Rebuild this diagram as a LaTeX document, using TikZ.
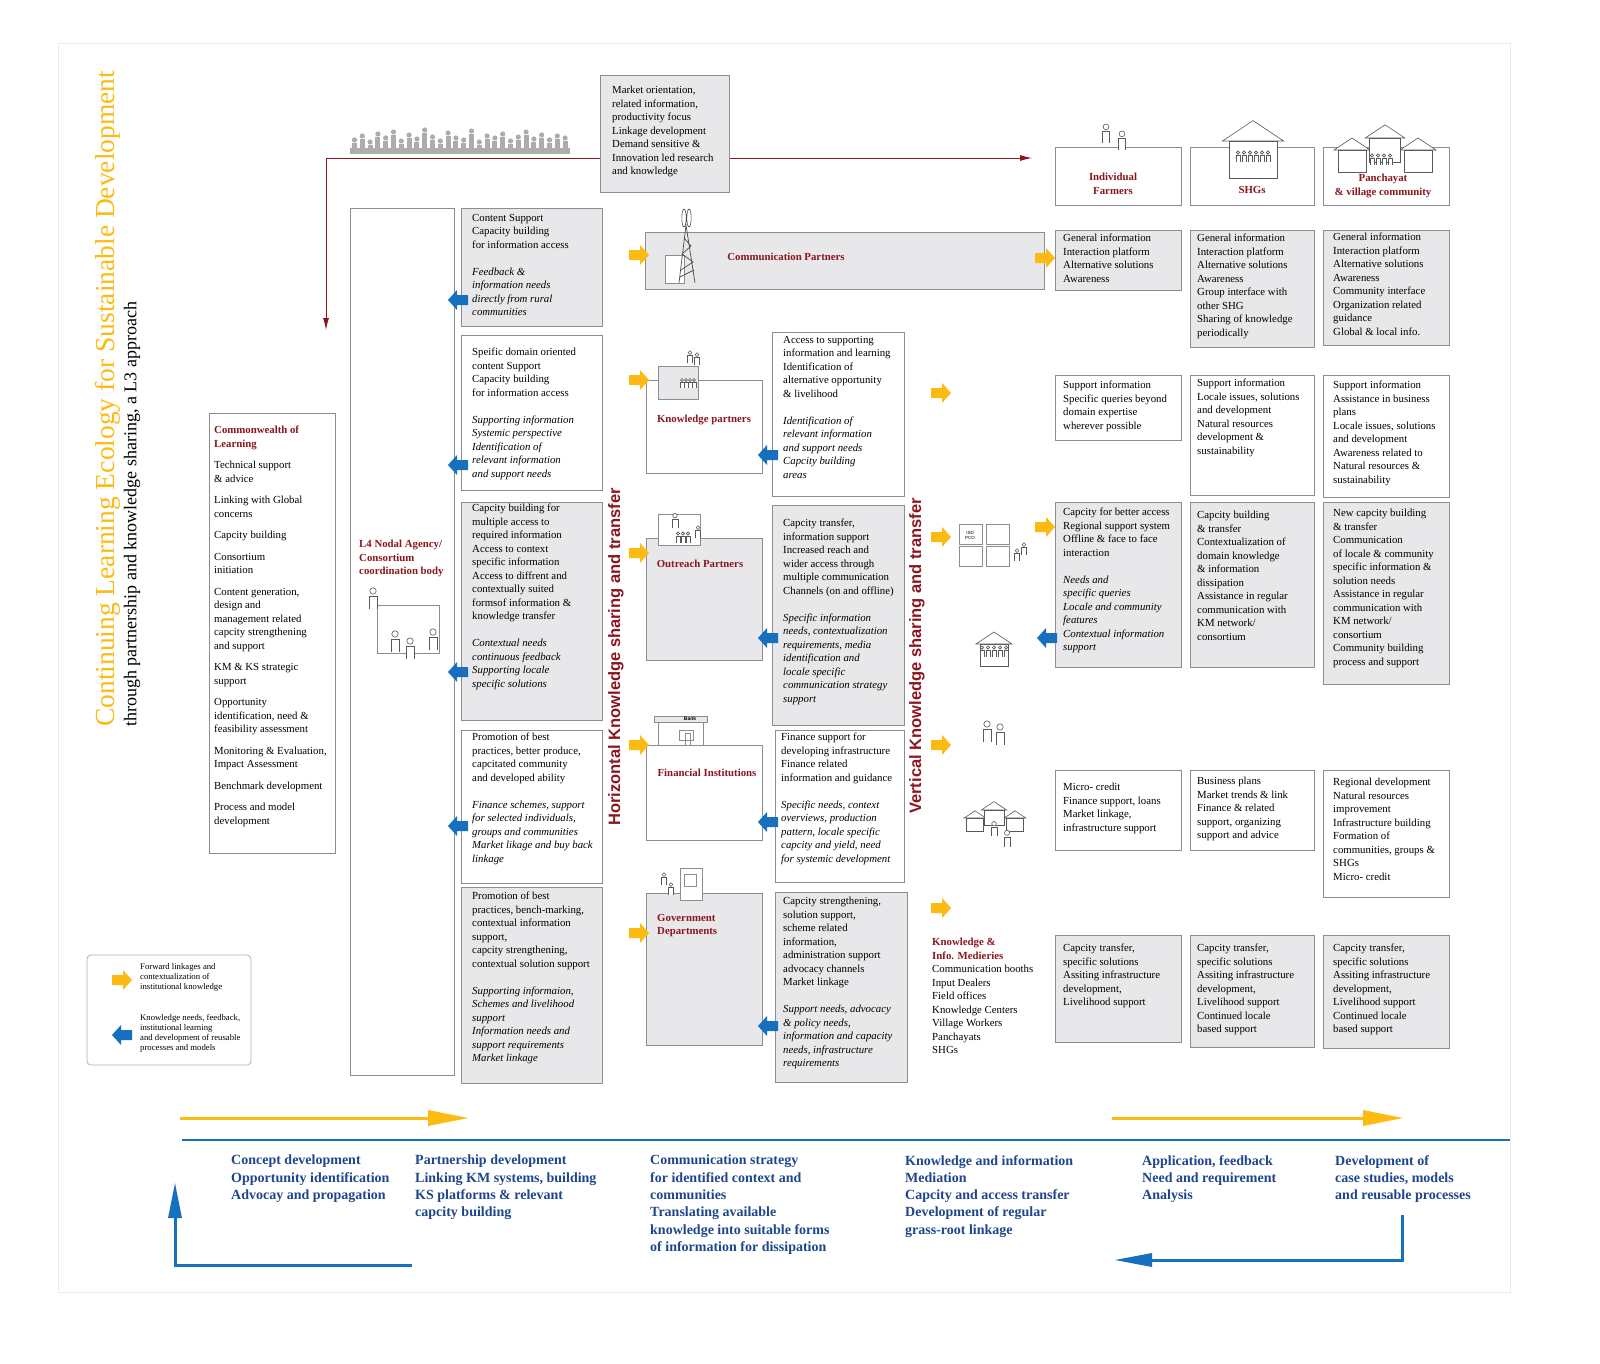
\documentclass[tikz,border=0pt]{standalone}
\usepackage{fontspec}
\usetikzlibrary{arrows.meta}
\setmainfont{Liberation Serif}
\setsansfont{Liberation Sans}
\definecolor{yel}{RGB}{252,186,18}
\definecolor{blu}{RGB}{22,112,190}
\definecolor{dred}{RGB}{140,22,30}
\definecolor{dblu}{RGB}{30,70,140}
\definecolor{gfill}{RGB}{232,232,234}
\definecolor{bline}{RGB}{140,140,145}
\newcommand\ft{\fontsize{10.8}{13.5}\selectfont}
\newcommand\mybox[5]{\draw[bline,line width=0.8pt,fill=#5] (#1,#2) rectangle (#3,#4);}
\tikzset{
 txt/.style={anchor=north west,align=left,font=\ft,inner sep=0pt},
 lab/.style={align=left,font=\ft\bfseries,text=dred,inner sep=0pt},
 bot/.style={anchor=north west,align=left,font=\fontsize{14}{17.3}\selectfont\bfseries,text=dblu,inner sep=0pt},
 yar/.pic={\fill[yel] (-10,-5)--(1,-5)--(1,-10)--(10,0)--(1,10)--(1,5)--(-10,5)--cycle;},
 bar/.pic={\fill[blu] (10,-5)--(-1,-5)--(-1,-10)--(-10,0)--(-1,10)--(-1,5)--(10,5)--cycle;},
 person/.pic={\draw[gray!70!black,line width=0.6pt,fill=white] (0,-9) circle (3.2); \draw[gray!70!black,line width=0.6pt,fill=white] (-4,9)--(-4,-4)--(4,-4)--(4,9);},
 house/.pic={\draw[gray!70!black,line width=0.6pt,fill=white] (-18,0)--(0,-12)--(18,0)--cycle; \draw[gray!70!black,line width=0.6pt,fill=white] (-14,0) rectangle (14,22);},
}
\begin{document}
\begin{tikzpicture}[x=1pt,y=-1pt]
\useasboundingbox (0,0) rectangle (1600,1363);
\fill[white] (0,0) rectangle (1600,1363);
\draw[gray!15,line width=0.8pt] (58,43) rectangle (1510,1292);

% title
\node[rotate=90,anchor=west,inner sep=0pt,text=yel,font=\fontsize{27.5}{27.5}\selectfont] (title) at (108,727) {Continuing Learning Ecology for Sustainable Development};
\node[rotate=90,anchor=west,inner sep=0pt,font=\fontsize{18}{18}\selectfont] (sub) at (132,727) {through partnership and knowledge sharing, a L3 approach};

% crowd
\foreach \i/\h in {0/10,1/14,2/8,3/16,4/12,5/18,6/9,7/15,8/11,9/20,10/13,11/9,12/17,13/12,14/10,15/19,16/8,17/14,18/12,19/16,20/9,21/13,22/18,23/11,24/15,25/10,26/14,27/12}{
 \fill[gray!65] (352+\i*7.8,153) rectangle (357+\i*7.8,153-\h);
 \fill[gray!65] (354.5+\i*7.8,150-\h) circle (2.6);}
\fill[gray!65] (350,148) rectangle (570,154);

% red lines
\draw[dred,line width=0.9pt,-{Latex[length=12pt,width=6pt]}] (326,158) -- (1032,158);
\draw[dred,line width=0.9pt,-{Latex[length=12pt,width=6pt]}] (326,158) -- (326,330);

% market box
\mybox{600}{75}{729}{192}{gfill}
\node[txt] (mkt) at (612,86) {Market orientation,\\related information,\\productivity focus\\Linkage development\\Demand sensitive \&\\Innovation led research\\and knowledge};

% left column
\mybox{209}{413}{335}{853}{white}
\node[txt] (col) at (214,426) {\textcolor{dred}{\bfseries Commonwealth of}\\\textcolor{dred}{\bfseries Learning}\\[8pt]
Technical support\\\& advice\\[8pt]Linking with Global\\concerns\\[8pt]Capcity building\\[8pt]Consortium\\initiation\\[8pt]Content generation,\\design and\\management related\\capcity strengthening\\and support\\[8pt]KM \& KS strategic\\support\\[8pt]Opportunity\\identification, need \&\\feasibility assessment\\[8pt]Monitoring \& Evaluation,\\Impact Assessment\\[8pt]Benchmark development\\[8pt]Process and model\\development};

% nodal agency
\mybox{350}{208}{454}{1075}{white}
\node[lab,anchor=north west] (l4) at (359,540) {L4 Nodal Agency/\\Consortium\\coordination body};
\draw[bline,line width=0.8pt,fill=white] (377,605) rectangle (439,653);
\pic at (373,600) {person};
\pic at (395,643) {person};
\pic at (410,650) {person};
\pic at (433,641) {person};

% column 1
\mybox{461}{208}{602}{326}{gfill}
\node[txt] (c11) at (472,214) {Content Support\\Capacity building\\for information access\\[13.5pt]\itshape Feedback \&\\\itshape information needs\\\itshape directly from rural\\\itshape communities};
\mybox{461}{335}{602}{490}{white}
\node[txt] (c12) at (472,348) {Speific domain oriented\\content Support\\Capacity building\\for information access\\[13.5pt]\itshape Supporting information\\\itshape Systemic perspective\\\itshape Identification of\\\itshape relevant information\\\itshape and support needs};
\mybox{461}{502}{602}{720}{gfill}
\node[txt] (c13) at (472,504) {Capcity building for\\multiple access to\\required information\\Access to context\\specific information\\Access to diffrent and\\contextually suited\\formsof information \&\\knowledge transfer\\[13.5pt]\itshape Contextual needs\\\itshape continuous feedback\\\itshape Supporting locale\\\itshape specific solutions};
\mybox{461}{730}{602}{883}{white}
\node[txt] (c14) at (472,733) {Promotion of best\\practices, better produce,\\capcitated community\\and developed ability\\[13.5pt]\itshape Finance schemes, support\\\itshape for selected individuals,\\\itshape groups and communities\\\itshape Market likage and buy back\\\itshape linkage};
\mybox{461}{887}{602}{1083}{gfill}
\node[txt] (c15) at (472,892) {Promotion of best\\practices, bench-marking,\\contextual information\\support,\\capcity strengthening,\\contextual solution support\\[13.5pt]\itshape Supporting informaion,\\\itshape Schemes and livelihood\\\itshape support\\\itshape Information needs and\\\itshape support requirements\\\itshape Market linkage};

% horizontal / vertical labels
\node[rotate=90,inner sep=0pt,font=\sffamily\bfseries\fontsize{16.5}{16.5}\selectfont,text=dred] (hks) at (616,657) {Horizontal Knowledge sharing and transfer};
\node[rotate=90,inner sep=0pt,font=\sffamily\bfseries\fontsize{16.5}{16.5}\selectfont,text=dred] (vks) at (917,656) {Vertical Knowledge sharing and transfer};

% partners
\mybox{645}{232}{1044}{289}{gfill}
\node[lab] (cp) at (786,257) {Communication Partners};
\draw[bline,line width=0.8pt,fill=white] (665,255) rectangle (684,283);
\draw[gray!60!black,line width=0.7pt] (679,283)--(686,225)--(695,283) (681,270)--(693,262)--(682,254)--(691,246)--(684,238) (680,277)--(694,270);
\draw[gray!60!black,line width=0.6pt] (684,218) ellipse (2.2 and 9) (689,218) ellipse (2.2 and 9);

\mybox{646}{380}{762}{473}{white}
\draw[bline,line width=0.8pt,fill=gfill] (658,366) rectangle (698,399);
\pic[scale=0.6] at (690,358) {person};
\pic[scale=0.6] at (697,360) {person};
\foreach \k in {0,1,2,3}{\pic[scale=0.45] at (682+\k*4,384) {person};}
\node[lab] (kp) at (704,420) {Knowledge partners};

\mybox{646}{538}{762}{660}{gfill}
\draw[bline,line width=0.8pt,fill=white] (658,514) rectangle (700,545);
\pic[scale=0.7] at (675,522) {person};
\pic[scale=0.6] at (698,533) {person};
\foreach \k in {0,1,2}{\pic[scale=0.5] at (678+\k*5,538) {person};}
\node[lab] (op) at (700,564) {Outreach Partners};

\mybox{646}{745}{762}{840}{white}
\draw[bline,line width=0.8pt,fill=white] (658,722) rectangle (703,745);
\draw[bline,line width=0.8pt,fill=gfill] (654,716) rectangle (707,722);
\node[font=\sffamily\bfseries\fontsize{5}{5}\selectfont,inner sep=0pt] (bank) at (690,719) {Bank};
\draw[bline,line width=0.6pt] (679,730) rectangle (693,740) (685,733) rectangle (690,745);
\node[lab] (fi) at (707,773) {Financial Institutions};

\mybox{646}{893}{762}{1045}{gfill}
\draw[bline,line width=0.8pt,fill=white] (680,868) rectangle (702,900);
\draw[bline,line width=0.6pt] (684,874) rectangle (696,886);
\pic[scale=0.6] at (664,880) {person};
\pic[scale=0.6] at (671,890) {person};
\node[lab,anchor=north west] (gd) at (657,914) {Government\\Departments};

% column 3
\mybox{772}{332}{904}{496}{white}
\node[txt] (c31) at (783,336) {Access to supporting\\information and learning\\Identification of\\alternative opportunity\\\& livelihood\\[13.5pt]\itshape Identification of\\\itshape relevant information\\\itshape and support needs\\\itshape Capcity building\\\itshape areas};
\mybox{772}{505}{904}{725}{gfill}
\node[txt] (c32) at (783,519) {Capcity transfer,\\information support\\Increased reach and\\wider access through\\multiple communication\\Channels (on and offline)\\[13.5pt]\itshape Specific information\\\itshape needs, contextualization\\\itshape requirements, media\\\itshape identification and\\\itshape locale specific\\\itshape communication strategy\\\itshape support};
\mybox{775}{730}{904}{882}{white}
\node[txt] (c33) at (781,733) {Finance support for\\developing infrastructure\\Finance related\\information and guidance\\[13.5pt]\itshape Specific needs, context\\\itshape overviews, production\\\itshape pattern, locale specific\\\itshape capcity and yield, need\\\itshape for systemic development};
\mybox{775}{892}{907}{1082}{gfill}
\node[txt] (c34) at (783,897) {Capcity strengthening,\\solution support,\\scheme related\\information,\\administration support\\advocacy channels\\Market linkage\\[13.5pt]\itshape Support needs, advocacy\\\itshape \& policy needs,\\\itshape information and capacity\\\itshape needs, infrastructure\\\itshape requirements};

% medieries icons
\draw[bline,line width=0.7pt,fill=white] (959,524) rectangle (982,544) (959,546) rectangle (982,566) (986,524) rectangle (1009,544) (986,546) rectangle (1009,566);
\node[font=\sffamily\fontsize{4.5}{5}\selectfont,align=center,inner sep=0pt] (isd) at (970,535) {ISD\\PCO};
\pic[scale=0.6] at (1017,556) {person};
\pic[scale=0.6] at (1024,550) {person};
\pic at (994,644) {house};
\foreach \k in {0,...,4}{\pic[scale=0.5] at (982+\k*6,652) {person};}
\pic at (987,733) {person};
\pic at (1000,736) {person};
\pic[scale=0.6] at (975,818) {house};
\pic[scale=0.6] at (1015,818) {house};
\pic[scale=0.7] at (994,810) {house};
\pic[scale=0.7] at (994,830) {person};
\pic[scale=0.8] at (1007,840) {person};
\node[lab,anchor=north west] (km) at (932,938) {Knowledge \&\\Info. Medieries};
\node[txt] (kml) at (932,965) {Communication booths\\Input Dealers\\Field offices\\Knowledge Centers\\Village Workers\\Panchayats\\SHGs};

% headers
\mybox{1055}{147}{1181}{205}{white}
\mybox{1190}{147}{1314}{205}{white}
\mybox{1323}{147}{1449}{205}{white}
\pic[scale=0.9] at (1106,135) {person};
\pic[scale=0.9] at (1122,142) {person};
\node[lab,align=center] (ind) at (1113,184) {Individual\\Farmers};
\pic[scale=1.7] at (1253,141) {house};
\foreach \k in {0,...,5}{\pic[scale=0.5] at (1238+\k*6,157) {person};}
\node[lab] (shg) at (1252,190) {SHGs};
\pic[scale=1.0] at (1352,150) {house};
\pic[scale=1.0] at (1418,150) {house};
\pic[scale=1.1] at (1385,138) {house};
\foreach \k in {0,...,3}{\pic[scale=0.5] at (1372+\k*6,160) {person};}
\node[lab,align=center] (pan) at (1383,186) {Panchayat\\\& village community};

% right columns
\mybox{1055}{230}{1181}{290}{gfill}
\node[txt] (r11) at (1063,234) {General information\\Interaction platform\\Alternative solutions\\Awareness};
\mybox{1055}{375}{1181}{440}{white}
\node[txt] (r12) at (1063,381) {Support information\\Specific queries beyond\\domain expertise\\wherever possible};
\mybox{1055}{502}{1181}{667}{gfill}
\node[txt] (r13) at (1063,508) {Capcity for better access\\Regional support system\\Offline \& face to face\\interaction\\[13.5pt]\itshape Needs and\\\itshape specific queries\\\itshape Locale and community\\\itshape features\\\itshape Contextual information\\\itshape support};
\mybox{1055}{770}{1181}{850}{white}
\node[txt] (r14) at (1063,783) {Micro- credit\\Finance support, loans\\Market linkage,\\infrastructure support};
\mybox{1055}{935}{1181}{1042}{gfill}
\node[txt] (r15) at (1063,944) {Capcity transfer,\\specific solutions\\Assiting infrastructure\\development,\\Livelihood support};

\mybox{1190}{230}{1314}{347}{gfill}
\node[txt] (r21) at (1197,234) {General information\\Interaction platform\\Alternative solutions\\Awareness\\Group interface with\\other SHG\\Sharing of knowledge\\periodically};
\mybox{1190}{375}{1314}{495}{white}
\node[txt] (r22) at (1197,379) {Support information\\Locale issues, solutions\\and development\\Natural resources\\development \&\\sustainability};
\mybox{1190}{502}{1314}{667}{gfill}
\node[txt] (r23) at (1197,511) {Capcity building\\\& transfer\\Contextualization of\\domain knowledge\\\& information\\dissipation\\Assistance in regular\\communication with\\KM network/\\consortium};
\mybox{1190}{770}{1314}{850}{white}
\node[txt] (r24) at (1197,777) {Business plans\\Market trends \& link\\Finance \& related\\support, organizing\\support and advice};
\mybox{1190}{935}{1314}{1047}{gfill}
\node[txt] (r25) at (1197,944) {Capcity transfer,\\specific solutions\\Assiting infrastructure\\development,\\Livelihood support\\Continued locale\\based support};

\mybox{1323}{230}{1449}{345}{gfill}
\node[txt] (r31) at (1333,233) {General information\\Interaction platform\\Alternative solutions\\Awareness\\Community interface\\Organization related\\guidance\\Global \& local info.};
\mybox{1323}{375}{1449}{497}{white}
\node[txt] (r32) at (1333,381) {Support information\\Assistance in business\\plans\\Locale issues, solutions\\and development\\Awareness related to\\Natural resources \&\\sustainability};
\mybox{1323}{502}{1449}{684}{gfill}
\node[txt] (r33) at (1333,509) {New capcity building\\\& transfer\\Communication\\of locale \& community\\specific information \&\\solution needs\\Assistance in regular\\communication with\\KM network/\\consortium\\Community building\\process and support};
\mybox{1323}{770}{1449}{897}{white}
\node[txt] (r34) at (1333,778) {Regional development\\Natural resources\\improvement\\Infrastructure building\\Formation of\\communities, groups \&\\SHGs\\Micro- credit};
\mybox{1323}{935}{1449}{1048}{gfill}
\node[txt] (r35) at (1333,944) {Capcity transfer,\\specific solutions\\Assiting infrastructure\\development,\\Livelihood support\\Continued locale\\based support};

% arrows
\foreach \y in {255,380,553,745,933}{\pic at (639,\y) {yar};}
\foreach \y in {258,527}{\pic at (1045,\y) {yar};}
\foreach \y in {393,537,745,908}{\pic at (941,\y) {yar};}
\foreach \y in {300,465,672,826}{\pic at (458,\y) {bar};}
\foreach \y in {455,638,822,1026}{\pic at (768,\y) {bar};}
\pic at (1047,638) {bar};

% legend
\draw[gray!60,line width=0.8pt,rounded corners=4pt] (87,955) rectangle (251,1065);
\pic at (122,980) {yar};
\pic at (122,1035) {bar};
\node[txt,font=\fontsize{8.7}{10}\selectfont] (lg1) at (140,963) {Forward linkages and\\contextualization of\\institutional knowledge};
\node[txt,font=\fontsize{8.7}{10}\selectfont] (lg2) at (140,1014) {Knowledge needs, feedback,\\institutional learning\\and development of reusable\\processes and models};

% bottom
\fill[yel] (180,1116.5) rectangle (430,1119.5);
\fill[yel] (428,1110)--(468,1118)--(428,1126)--cycle;
\fill[yel] (1112,1116.5) rectangle (1365,1119.5);
\fill[yel] (1363,1110)--(1403,1118)--(1363,1126)--cycle;
\draw[blu,line width=1.6pt] (182,1140) -- (1510,1140);
\draw[blu,line width=3pt] (412,1265) -- (175,1265) -- (175,1215);
\fill[blu] (168,1218)--(175,1183)--(182,1218)--cycle;
\draw[blu,line width=3pt] (1402,1215) -- (1402,1260) -- (1150,1260);
\fill[blu] (1152,1253)--(1115,1260)--(1152,1267)--cycle;
\node[bot] (b1) at (231,1155) {Concept development\\Opportunity identification\\Advocay and propagation};
\node[bot] (b2) at (415,1155) {Partnership development\\Linking KM systems, building\\KS platforms \& relevant\\capcity building};
\node[bot] (b3) at (650,1155) {Communication strategy\\for identified context and\\communities\\Translating available\\knowledge into suitable forms\\of information for dissipation};
\node[bot] (b4) at (905,1155) {Knowledge and information\\Mediation\\Capcity and access transfer\\Development of regular\\grass-root linkage};
\node[bot] (b5) at (1142,1155) {Application, feedback\\Need and requirement\\Analysis};
\node[bot] (b6) at (1335,1155) {Development of\\case studies, models\\and reusable processes};
\end{tikzpicture}
\end{document}
